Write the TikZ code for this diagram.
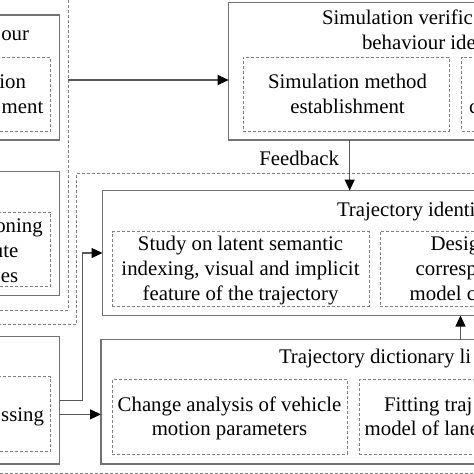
\documentclass[tikz,border=0pt]{standalone}
\usepackage{fontspec}
\setmainfont{Liberation Serif}
\usetikzlibrary{arrows.meta}
\definecolor{solidc}{gray}{0.45}
\definecolor{dashc}{gray}{0.5}
\definecolor{arrc}{gray}{0.35}
\tikzset{
  solidbox/.style={draw=solidc, line width=1.2pt, rectangle, inner sep=0pt, outer sep=0pt},
  dashbox/.style={draw=dashc, line width=0.9pt, dash pattern=on 3pt off 2pt, rectangle, inner sep=0pt, outer sep=0pt},
  groupline/.style={draw=dashc, line width=0.9pt, dash pattern=on 3pt off 2pt},
  arr/.style={draw=arrc, line width=1.1pt, -{Triangle[length=11pt,width=10pt,color=black]}},
  txt/.style={inner sep=0pt, outer sep=0pt, font=\fontsize{20.8}{25}\selectfont}
}
\begin{document}
\begin{tikzpicture}[x=1pt,y=-1pt]
\useasboundingbox (0,0) rectangle (474,474);
\clip (0,0) rectangle (474,474);
% groups
\node[dashbox, minimum width=78.3pt, minimum height=320pt] (ga) at (29.15,150) {};
\draw[groupline] (520,173.5) -- (76.7,173.5) -- (76.7,324) -- (-20,324) -- (-20,473.3) -- (520,473.3);
% left boxes
\node[solidbox, minimum width=69.3pt, minimum height=125pt] (l1) at (24.65,77.5) {};
\node[solidbox, minimum width=69.3pt, minimum height=124pt] (l2) at (24.65,233.7) {};
\node[solidbox, minimum width=69.3pt, minimum height=127.3pt] (l3) at (24.65,400.35) {};
\node[dashbox, minimum width=60.7pt, minimum height=74pt] (d1) at (20.35,94) {};
\node[dashbox, minimum width=60.7pt, minimum height=74.4pt] (d2) at (20.35,249.5) {};
\node[dashbox, minimum width=60.7pt, minimum height=75pt] (d3) at (20.35,414.2) {};
% top right box
\node[solidbox, minimum width=271.3pt, minimum height=137.3pt] (t) at (364.35,71.35) {};
\node[dashbox, minimum width=206pt, minimum height=74pt] (d4) at (346.3,94) {};
\node[dashbox, minimum width=38.3pt, minimum height=74pt] (d5) at (480.85,94) {};
% trajectory identification
\node[solidbox, minimum width=397.5pt, minimum height=125pt] (ti) at (301.25,253) {};
\node[dashbox, minimum width=256.7pt, minimum height=74.3pt] (d6) at (240.65,268.85) {};
\node[dashbox, minimum width=120pt, minimum height=74.3pt] (d7) at (440,268.85) {};
% trajectory dictionary
\node[solidbox, minimum width=399pt, minimum height=124.5pt] (td) at (300.5,401.75) {};
\node[dashbox, minimum width=235pt, minimum height=74.5pt] (d8) at (229.8,416.75) {};
\node[dashbox, minimum width=141pt, minimum height=74.5pt] (d9) at (429.5,416.75) {};
% texts
\node[txt, anchor=base east] (x1) at (29,40) {our};
\node[txt, anchor=base east] (x2) at (26,88) {ion};
\node[txt, anchor=base east] (x3) at (43.3,113) {ment};
\node[txt, anchor=base east] (x4) at (42.7,232) {oning};
\node[txt, anchor=base east] (x5) at (18.3,257) {ute};
\node[txt, anchor=base east] (x6) at (18.3,282) {es};
\node[txt, anchor=base east] (x7) at (44,421) {ssing};
\node[txt, anchor=base west] (x8) at (322,24) {Simulation verific};
\node[txt, anchor=base west] (x9) at (362,49) {behaviour ide};
\node[txt, anchor=base] (x10) at (347.5,88) {Simulation method};
\node[txt, anchor=base] (x11) at (347.5,113) {establishment};
\node[txt, anchor=base west] (x12) at (469,113) {c};
\node[txt, anchor=base east] (x13) at (339,165) {Feedback};
\node[txt, anchor=base west] (x14) at (337,216) {Trajectory identi};
\node[txt, anchor=base] (x15) at (240.5,250) {Study on latent semantic};
\node[txt, anchor=base] (x16) at (240.5,275) {indexing, visual and implicit};
\node[txt, anchor=base] (x17) at (240.5,300) {feature of the trajectory};
\node[txt, anchor=base west] (x18) at (430.7,250) {Desig};
\node[txt, anchor=base west] (x19) at (415.7,275) {corresp};
\node[txt, anchor=base west] (x20) at (409.7,300) {model c};
\node[txt, anchor=base west] (x21) at (279,363.5) {Trajectory dictionary li};
\node[txt, anchor=base] (x22) at (229.5,411) {Change analysis of vehicle};
\node[txt, anchor=base] (x23) at (229.5,435) {motion parameters};
\node[txt, anchor=base west] (x24) at (384,411) {Fitting traj};
\node[txt, anchor=base west] (x25) at (364.7,435) {model of lane};
% connectors
\coordinate (a1) at (68.3,80);
\draw[arr] (a1) -- (a1 -| t.west);
\coordinate (fb) at (349.7,150);
\draw[arr] (fb |- t.south) -- (fb |- ti.north);
\coordinate (up) at (460.5,330);
\draw[arr] (up |- td.north) -- (up |- ti.south);
\draw[arr] (l3.east) -- ++(23,0) |- (ti.west);
\draw[arr] ([yshift=-14pt]l3.east) coordinate (s2) -- (s2 -| td.west);
\end{tikzpicture}
\end{document}
